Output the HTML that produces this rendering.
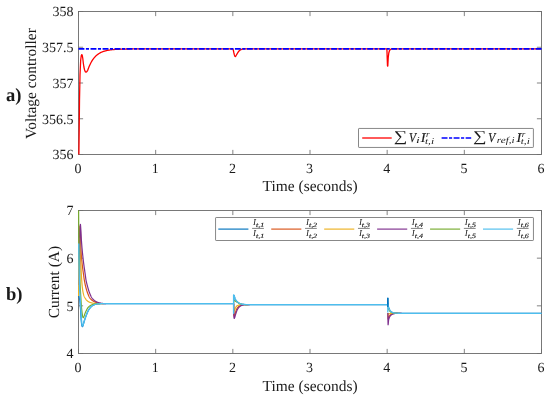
<!DOCTYPE html>
<html lang="en"><head><meta charset="utf-8"><title>Figure</title><style>
html,body{margin:0;padding:0;background:#fff;}
body{width:550px;height:400px;overflow:hidden;position:relative;}
svg text{font-family:"Liberation Serif","DejaVu Serif",serif;fill:#1a1a1a;text-rendering:geometricPrecision;}
.tk{font-size:14px;}
.lb{font-size:15.45px;}
.pn{font-size:18.6px;font-weight:bold;}
.it{font-style:italic;}
.up{font-style:normal;}
.sb{stroke:#1a1a1a;stroke-width:0.15px;}
</style></head><body>
<svg width="550" height="400" viewBox="0 0 550 400" style="display:block;position:absolute;left:0;top:0">
<rect x="0" y="0" width="550" height="400" fill="#fff"/>
<rect x="78.5" y="11.5" width="463.0" height="143.0" fill="none" stroke="#585858" stroke-width="0.8"/>
<path d="M78.50,154.5 v-4.6 M78.50,11.5 v4.6 M155.67,154.5 v-4.6 M155.67,11.5 v4.6 M232.83,154.5 v-4.6 M232.83,11.5 v4.6 M310.00,154.5 v-4.6 M310.00,11.5 v4.6 M387.17,154.5 v-4.6 M387.17,11.5 v4.6 M464.33,154.5 v-4.6 M464.33,11.5 v4.6 M541.50,154.5 v-4.6 M541.50,11.5 v4.6 M78.5,11.50 h4.6 M541.5,11.50 h-4.6 M78.5,47.25 h4.6 M541.5,47.25 h-4.6 M78.5,83.00 h4.6 M541.5,83.00 h-4.6 M78.5,118.75 h4.6 M541.5,118.75 h-4.6 M78.5,154.50 h4.6 M541.5,154.50 h-4.6 " stroke="#6e6e6e" stroke-width="0.85" fill="none"/>
<path d="M78.90,154.50 L79.20,130.00 L79.50,100.00 L80.00,75.00 L80.70,60.00 L81.30,55.50 L81.80,54.60 L82.30,55.50 L82.80,58.50 L83.30,63.00 L83.90,67.00 L84.60,70.00 L85.30,71.70 L86.00,72.20 L86.80,71.70 L87.70,70.30 L88.18,68.97 L88.65,67.72 L89.13,66.55 L89.60,65.45 L90.08,64.42 L90.55,63.46 L91.03,62.55 L91.50,61.70 L91.98,60.91 L92.45,60.16 L92.93,59.46 L93.40,58.80 L93.88,58.19 L94.35,57.61 L94.83,57.07 L95.30,56.56 L95.78,56.08 L96.26,55.63 L96.73,55.22 L97.21,54.82 L97.68,54.45 L98.16,54.11 L98.63,53.78 L99.11,53.48 L99.58,53.20 L100.06,52.93 L100.53,52.68 L101.01,52.44 L101.48,52.22 L101.96,52.02 L102.43,51.82 L102.91,51.64 L103.38,51.47 L103.86,51.31 L104.33,51.16 L104.81,51.02 L105.29,50.89 L105.76,50.76 L106.24,50.65 L106.71,50.54 L107.19,50.44 L107.66,50.34 L108.14,50.25 L108.61,50.17 L109.09,50.09 L109.56,50.02 L110.04,49.95 L110.51,49.88 L110.99,49.82 L111.46,49.76 L111.94,49.71 L112.41,49.66 L112.89,49.61 L113.37,49.57 L113.84,49.53 L114.32,49.49 L114.79,49.45 L115.27,49.42 L115.74,49.38 L116.22,49.35 L116.69,49.33 L117.17,49.30 L117.64,49.27 L118.12,49.25 L118.59,49.23 L119.07,49.21 L119.54,49.19 L120.02,49.17 L120.49,49.15 L120.97,49.14 L121.44,49.12 L121.92,49.11 L122.40,49.10 L122.87,49.08 L123.35,49.07 L123.82,49.06 L124.30,49.05 L124.77,49.04 L125.25,49.03 L125.72,49.03 L126.20,49.02 L126.67,49.01 L127.15,49.00 L127.62,49.00 L128.10,48.99 L128.57,48.99 L129.05,48.98 L129.52,48.98 L130.00,48.97 L232.90,48.90 L233.30,50.00 L233.80,52.50 L234.40,55.00 L235.00,56.40 L235.40,56.50 L236.00,55.80 L236.80,54.30 L237.80,52.60 L239.00,51.00 L240.50,49.80 L242.00,49.20 L244.00,48.90 L386.90,48.90 L387.20,58.00 L387.50,66.00 L387.80,66.00 L388.20,58.00 L388.80,53.00 L389.50,50.50 L390.50,49.30 L391.50,48.90 L541.00,48.90" fill="none" stroke="#ff0000" stroke-width="1.3" stroke-linejoin="round"/>
<path d="M78.5,48.9 H541.5" fill="none" stroke="#0000ff" stroke-width="1.6" stroke-dasharray="5.9 1.5 3.13 1.5"/>
<text x="73.45" y="16.45" text-anchor="end" class="tk">358</text>
<text x="73.45" y="52.20" text-anchor="end" class="tk">357.5</text>
<text x="73.45" y="87.95" text-anchor="end" class="tk">357</text>
<text x="73.45" y="123.70" text-anchor="end" class="tk">356.5</text>
<text x="73.45" y="159.45" text-anchor="end" class="tk">356</text>
<text x="78.10" y="173.1" text-anchor="middle" class="tk">0</text>
<text x="155.27" y="173.1" text-anchor="middle" class="tk">1</text>
<text x="232.43" y="173.1" text-anchor="middle" class="tk">2</text>
<text x="309.60" y="173.1" text-anchor="middle" class="tk">3</text>
<text x="386.77" y="173.1" text-anchor="middle" class="tk">4</text>
<text x="463.93" y="173.1" text-anchor="middle" class="tk">5</text>
<text x="541.10" y="173.1" text-anchor="middle" class="tk">6</text>
<text x="310.15" y="191.4" text-anchor="middle" class="lb">Time (seconds)</text>
<text transform="translate(35.7,83.6) rotate(-90)" text-anchor="middle" class="lb">Voltage controller</text>
<text x="6" y="101" class="pn">a)</text>
<rect x="358.5" y="128.45" width="174.9" height="19" rx="0.6" fill="#fff" stroke="#6a6a6a" stroke-width="0.8"/>
<path d="M362.2,138 H391.7" stroke="#ff0000" stroke-width="1.3"/>
<path d="M441.6,138 H471.2" stroke="#0000ff" stroke-width="1.6" stroke-dasharray="5.9 1.5 3.13 1.5"/>
<text transform="translate(393.85,141.1) scale(1.266,1)" class="up" font-size="15">∑</text>
<text transform="translate(408.93,142.4) scale(0.861,1)" class="it sb" font-size="13.2">V</text>
<text transform="translate(416.08,143.1) scale(1.520,1)" class="it" font-size="9.0">i</text>
<text transform="translate(420.80,142.4) scale(1.085,1)" class="it sb" font-size="13.2">I</text>
<text transform="translate(426.03,136.6) scale(1.076,1)" class="it" font-size="8.5">r</text>
<text transform="translate(424.95,143.8) scale(1.263,1)" class="it" font-size="9.0">t,i</text>
<text transform="translate(473.05,141.1) scale(1.266,1)" class="up" font-size="15">∑</text>
<text transform="translate(488.13,142.4) scale(0.861,1)" class="it sb" font-size="13.2">V</text>
<text transform="translate(496.86,143.1) scale(1.235,1)" class="it" font-size="9.0">ref,i</text>
<text transform="translate(516.50,142.4) scale(1.085,1)" class="it sb" font-size="13.2">I</text>
<text transform="translate(521.73,136.6) scale(1.076,1)" class="it" font-size="8.5">r</text>
<text transform="translate(520.65,143.8) scale(1.263,1)" class="it" font-size="9.0">t,i</text>
<rect x="78.5" y="210.5" width="463.0" height="143.0" fill="none" stroke="#585858" stroke-width="0.8"/>
<path d="M78.50,353.5 v-4.6 M78.50,210.5 v4.6 M155.67,353.5 v-4.6 M155.67,210.5 v4.6 M232.83,353.5 v-4.6 M232.83,210.5 v4.6 M310.00,353.5 v-4.6 M310.00,210.5 v4.6 M387.17,353.5 v-4.6 M387.17,210.5 v4.6 M464.33,353.5 v-4.6 M464.33,210.5 v4.6 M541.50,353.5 v-4.6 M541.50,210.5 v4.6 M78.5,210.50 h4.6 M541.5,210.50 h-4.6 M78.5,258.17 h4.6 M541.5,258.17 h-4.6 M78.5,305.83 h4.6 M541.5,305.83 h-4.6 M78.5,353.50 h4.6 M541.5,353.50 h-4.6 " stroke="#6e6e6e" stroke-width="0.85" fill="none"/>
<text x="73.45" y="215.45" text-anchor="end" class="tk">7</text>
<text x="73.45" y="263.12" text-anchor="end" class="tk">6</text>
<text x="73.45" y="310.78" text-anchor="end" class="tk">5</text>
<text x="73.45" y="358.45" text-anchor="end" class="tk">4</text>
<text x="78.10" y="372.1" text-anchor="middle" class="tk">0</text>
<text x="155.27" y="372.1" text-anchor="middle" class="tk">1</text>
<text x="232.43" y="372.1" text-anchor="middle" class="tk">2</text>
<text x="309.60" y="372.1" text-anchor="middle" class="tk">3</text>
<text x="386.77" y="372.1" text-anchor="middle" class="tk">4</text>
<text x="463.93" y="372.1" text-anchor="middle" class="tk">5</text>
<text x="541.10" y="372.1" text-anchor="middle" class="tk">6</text>
<text x="310.15" y="390.6" text-anchor="middle" class="lb">Time (seconds)</text>
<text transform="translate(59.0,282.1) rotate(-90)" text-anchor="middle" class="lb">Current (A)</text>
<text x="6" y="300" class="pn">b)</text>
<path d="M78.90,296.00 L79.05,296.38 L79.20,296.98 L79.35,297.75 L79.50,298.65 L79.65,299.65 L79.70,300.00 L79.80,300.79 L79.95,302.26 L80.10,304.01 L80.25,305.94 L80.40,307.96 L80.55,310.00 L80.55,310.00 L80.70,312.26 L80.85,314.79 L81.00,317.29 L81.15,319.42 L81.20,320.00 L81.30,321.07 L81.45,322.61 L81.60,323.98 L81.75,325.04 L81.90,325.70 L81.90,325.70 L82.05,326.09 L82.20,326.40 L82.35,326.62 L82.50,326.70 L82.50,326.70 L82.65,326.53 L82.80,326.12 L82.95,325.65 L83.00,325.50 L83.10,325.21 L83.25,324.71 L83.40,324.18 L83.55,323.62 L83.70,323.06 L83.85,322.51 L84.00,322.00 L84.00,322.00 L84.15,321.51 L84.30,321.03 L84.45,320.55 L84.60,320.08 L84.75,319.62 L84.90,319.16 L85.05,318.70 L85.20,318.25 L85.35,317.81 L85.50,317.38 L85.65,316.96 L85.80,316.54 L85.95,316.13 L86.00,316.00 L86.10,315.73 L86.25,315.34 L86.40,314.94 L86.55,314.55 L86.70,314.16 L86.85,313.79 L87.00,313.41 L87.15,313.05 L87.30,312.70 L87.45,312.35 L87.60,312.02 L87.75,311.70 L87.90,311.40 L88.00,311.20 L88.05,311.10 L88.20,310.82 L88.35,310.54 L88.50,310.27 L88.65,310.01 L88.80,309.75 L88.95,309.50 L89.10,309.26 L89.25,309.03 L89.40,308.80 L89.55,308.59 L89.70,308.38 L89.85,308.19 L90.00,308.00 L90.00,308.00 L90.15,307.82 L90.30,307.64 L90.45,307.47 L90.60,307.30 L90.75,307.14 L90.90,306.98 L91.05,306.82 L91.20,306.67 L91.35,306.53 L91.50,306.39 L91.65,306.26 L91.80,306.13 L91.95,306.01 L92.10,305.90 L92.25,305.80 L92.40,305.70 L92.40,305.70 L92.55,305.61 L92.70,305.52 L92.85,305.43 L93.00,305.35 L93.15,305.27 L93.30,305.18 L93.45,305.11 L93.60,305.03 L93.75,304.96 L93.90,304.89 L94.05,304.82 L94.20,304.75 L94.35,304.69 L94.50,304.63 L94.65,304.58 L94.80,304.52 L94.95,304.47 L95.10,304.43 L95.25,304.38 L95.40,304.35 L95.55,304.31 L95.60,304.30 L95.70,304.28 L95.85,304.25 L96.00,304.22 L96.15,304.19 L96.30,304.16 L96.45,304.14 L96.60,304.11 L96.75,304.09 L96.90,304.06 L97.05,304.04 L97.20,304.02 L97.35,304.00 L97.50,303.98 L97.65,303.96 L97.80,303.94 L97.95,303.93 L98.10,303.91 L98.25,303.90 L98.40,303.88 L98.55,303.87 L98.70,303.86 L98.80,303.85 L98.85,303.85 L99.00,303.84 L99.15,303.82 L99.30,303.81 L99.45,303.80 L99.60,303.79 L99.75,303.78 L99.90,303.77 L100.05,303.76 L100.20,303.75 L100.35,303.74 L100.50,303.73 L100.65,303.73 L100.80,303.72 L100.95,303.71 L101.10,303.70 L101.25,303.69 L101.40,303.69 L101.55,303.68 L101.70,303.68 L101.85,303.67 L102.00,303.67 L102.15,303.66 L102.30,303.66 L102.45,303.65 L102.60,303.65 L102.75,303.65 L102.90,303.65 L103.00,303.65 L233.57,303.65 L233.60,296.00 L233.72,295.63 L233.87,295.50 L233.90,295.50 L234.02,295.57 L234.17,295.83 L234.32,296.25 L234.47,296.76 L234.62,297.33 L234.77,297.91 L234.92,298.45 L235.07,298.91 L235.20,299.20 L235.22,299.24 L235.37,299.49 L235.52,299.73 L235.67,299.96 L235.82,300.18 L235.97,300.39 L236.12,300.58 L236.27,300.77 L236.42,300.95 L236.57,301.11 L236.72,301.27 L236.87,301.43 L237.02,301.57 L237.17,301.72 L237.32,301.85 L237.47,301.99 L237.60,302.10 L237.62,302.12 L237.77,302.25 L237.92,302.37 L238.07,302.50 L238.22,302.62 L238.37,302.73 L238.52,302.85 L238.67,302.96 L238.82,303.07 L238.97,303.17 L239.12,303.26 L239.27,303.35 L239.42,303.44 L239.57,303.52 L239.72,303.59 L239.87,303.65 L240.00,303.70 L240.02,303.71 L240.17,303.76 L240.32,303.81 L240.47,303.86 L240.62,303.91 L240.77,303.95 L240.92,304.00 L241.07,304.04 L241.22,304.08 L241.37,304.12 L241.52,304.16 L241.67,304.19 L241.82,304.23 L241.97,304.26 L242.12,304.29 L242.27,304.31 L242.42,304.34 L242.57,304.36 L242.72,304.37 L242.87,304.39 L243.00,304.40 L243.02,304.40 L243.17,304.41 L243.32,304.42 L243.47,304.43 L243.62,304.44 L243.77,304.45 L243.92,304.46 L244.07,304.47 L244.22,304.48 L244.37,304.49 L244.52,304.50 L244.67,304.51 L244.82,304.51 L244.97,304.52 L245.12,304.53 L245.27,304.54 L245.42,304.54 L245.57,304.55 L245.72,304.55 L245.87,304.56 L246.02,304.57 L246.17,304.57 L246.32,304.57 L246.47,304.58 L246.62,304.58 L246.77,304.59 L246.92,304.59 L247.07,304.59 L247.22,304.59 L247.37,304.60 L247.52,304.60 L247.67,304.60 L247.82,304.60 L247.97,304.60 L248.00,304.60 L387.65,304.60 L387.70,298.20 L387.80,298.04 L387.90,298.00 L387.95,298.65 L388.10,303.00 L388.10,303.00 L388.25,304.73 L388.40,305.93 L388.50,306.50 L388.55,306.74 L388.70,307.33 L388.85,307.80 L389.00,308.20 L389.00,308.20 L389.15,308.59 L389.30,308.96 L389.45,309.32 L389.60,309.65 L389.75,309.97 L389.90,310.25 L390.05,310.51 L390.20,310.74 L390.35,310.94 L390.40,311.00 L390.50,311.11 L390.65,311.27 L390.80,311.42 L390.95,311.57 L391.10,311.71 L391.25,311.84 L391.40,311.96 L391.55,312.07 L391.70,312.17 L391.85,312.26 L392.00,312.34 L392.15,312.41 L392.30,312.47 L392.40,312.50 L392.45,312.51 L392.60,312.56 L392.75,312.60 L392.90,312.64 L393.05,312.67 L393.20,312.71 L393.35,312.74 L393.50,312.77 L393.65,312.80 L393.80,312.83 L393.95,312.86 L394.10,312.88 L394.25,312.91 L394.40,312.93 L394.55,312.95 L394.70,312.97 L394.85,312.99 L395.00,313.01 L395.15,313.03 L395.30,313.04 L395.45,313.06 L395.60,313.07 L395.75,313.08 L395.90,313.09 L396.00,313.10 L396.05,313.10 L396.20,313.11 L396.35,313.12 L396.50,313.13 L396.65,313.14 L396.80,313.15 L396.95,313.16 L397.10,313.17 L397.25,313.18 L397.40,313.19 L397.55,313.19 L397.70,313.20 L397.85,313.21 L398.00,313.22 L398.15,313.23 L398.30,313.23 L398.45,313.24 L398.60,313.25 L398.75,313.25 L398.90,313.26 L399.05,313.26 L399.20,313.27 L399.35,313.27 L399.50,313.28 L399.65,313.28 L399.80,313.29 L399.95,313.29 L400.10,313.29 L400.25,313.29 L400.40,313.30 L400.55,313.30 L400.70,313.30 L400.85,313.30 L401.00,313.30 L401.00,313.30 L541.50,313.30" fill="none" stroke="#0072bd" stroke-width="1.2" stroke-linejoin="round"/>
<path d="M79.35,285.00 L79.45,270.00 L79.50,259.50 L79.60,240.00 L79.65,235.58 L79.80,228.00 L79.80,228.00 L79.95,226.52 L80.10,226.00 L80.10,226.00 L80.25,227.17 L80.40,229.89 L80.50,232.00 L80.55,233.26 L80.70,238.90 L80.85,245.33 L81.00,250.00 L81.00,250.00 L81.15,252.70 L81.30,254.97 L81.45,256.90 L81.60,258.57 L81.75,260.09 L81.90,261.53 L82.00,262.50 L82.05,262.98 L82.20,264.37 L82.35,265.68 L82.50,266.92 L82.65,268.09 L82.80,269.22 L82.95,270.32 L83.10,271.40 L83.25,272.47 L83.40,273.54 L83.55,274.63 L83.60,275.00 L83.70,275.75 L83.85,276.89 L84.00,278.00 L84.15,279.05 L84.30,280.00 L84.30,280.00 L84.45,280.86 L84.60,281.68 L84.75,282.46 L84.90,283.21 L85.05,283.92 L85.20,284.60 L85.35,285.26 L85.50,285.89 L85.60,286.30 L85.65,286.50 L85.80,287.10 L85.95,287.69 L86.10,288.26 L86.25,288.82 L86.40,289.36 L86.55,289.89 L86.70,290.40 L86.85,290.89 L87.00,291.35 L87.15,291.80 L87.30,292.23 L87.40,292.50 L87.45,292.63 L87.60,293.03 L87.75,293.42 L87.90,293.81 L88.05,294.20 L88.20,294.57 L88.35,294.94 L88.50,295.31 L88.65,295.66 L88.80,296.00 L88.95,296.33 L89.10,296.64 L89.25,296.95 L89.40,297.24 L89.55,297.51 L89.70,297.76 L89.85,298.00 L90.00,298.22 L90.15,298.42 L90.30,298.60 L90.30,298.60 L90.45,298.77 L90.60,298.93 L90.75,299.08 L90.90,299.24 L91.05,299.38 L91.20,299.53 L91.35,299.67 L91.50,299.80 L91.65,299.93 L91.80,300.06 L91.95,300.18 L92.10,300.30 L92.25,300.42 L92.40,300.53 L92.55,300.64 L92.70,300.75 L92.85,300.85 L93.00,300.95 L93.15,301.04 L93.30,301.14 L93.45,301.23 L93.60,301.31 L93.75,301.40 L93.90,301.48 L94.05,301.56 L94.20,301.63 L94.35,301.71 L94.50,301.78 L94.65,301.85 L94.80,301.91 L94.95,301.98 L95.00,302.00 L95.10,302.04 L95.25,302.10 L95.40,302.16 L95.55,302.22 L95.70,302.28 L95.85,302.34 L96.00,302.40 L96.15,302.45 L96.30,302.51 L96.45,302.56 L96.60,302.61 L96.75,302.66 L96.90,302.71 L97.05,302.75 L97.20,302.80 L97.35,302.84 L97.50,302.88 L97.65,302.93 L97.80,302.96 L97.95,303.00 L98.10,303.03 L98.25,303.07 L98.40,303.10 L98.55,303.13 L98.70,303.15 L98.85,303.18 L99.00,303.20 L99.00,303.20 L99.15,303.22 L99.30,303.24 L99.45,303.26 L99.60,303.28 L99.75,303.30 L99.90,303.32 L100.05,303.34 L100.20,303.36 L100.35,303.38 L100.50,303.40 L100.65,303.42 L100.80,303.44 L100.95,303.45 L101.10,303.47 L101.25,303.49 L101.40,303.50 L101.55,303.52 L101.70,303.53 L101.85,303.55 L102.00,303.56 L102.15,303.57 L102.30,303.58 L102.45,303.59 L102.60,303.60 L102.75,303.61 L102.90,303.62 L103.05,303.63 L103.20,303.63 L103.35,303.64 L103.50,303.64 L103.65,303.65 L103.80,303.65 L103.95,303.65 L104.00,303.65 M233.72,303.65 L233.75,312.00 L233.87,314.08 L234.02,315.57 L234.17,316.19 L234.30,316.30 L234.32,316.30 L234.47,316.16 L234.62,315.82 L234.77,315.34 L234.92,314.75 L235.07,314.11 L235.22,313.45 L235.37,312.82 L235.52,312.25 L235.60,312.00 L235.67,311.79 L235.82,311.34 L235.97,310.88 L236.12,310.43 L236.27,310.00 L236.42,309.60 L236.57,309.25 L236.72,308.94 L236.80,308.80 L236.87,308.69 L237.02,308.46 L237.17,308.24 L237.32,308.03 L237.47,307.83 L237.62,307.64 L237.77,307.46 L237.92,307.29 L238.07,307.13 L238.22,306.98 L238.37,306.83 L238.52,306.70 L238.67,306.58 L238.82,306.46 L238.97,306.35 L239.12,306.25 L239.20,306.20 L239.27,306.16 L239.42,306.07 L239.57,305.98 L239.72,305.89 L239.87,305.81 L240.02,305.73 L240.17,305.65 L240.32,305.58 L240.47,305.51 L240.62,305.44 L240.77,305.37 L240.92,305.31 L241.07,305.26 L241.22,305.21 L241.37,305.16 L241.52,305.11 L241.67,305.07 L241.82,305.04 L241.97,305.01 L242.00,305.00 L242.12,304.98 L242.27,304.95 L242.42,304.93 L242.57,304.90 L242.72,304.88 L242.87,304.85 L243.02,304.83 L243.17,304.81 L243.32,304.79 L243.47,304.77 L243.62,304.75 L243.77,304.73 L243.92,304.72 L244.07,304.70 L244.22,304.69 L244.37,304.68 L244.52,304.67 L244.67,304.66 L244.82,304.66 L244.97,304.65 L245.00,304.65 L245.12,304.65 L245.27,304.64 L245.42,304.64 L245.57,304.64 L245.72,304.63 L245.87,304.63 L246.02,304.63 L246.17,304.63 L246.32,304.62 L246.47,304.62 L246.62,304.62 L246.77,304.62 L246.92,304.61 L247.07,304.61 L247.22,304.61 L247.37,304.61 L247.52,304.61 L247.67,304.61 L247.82,304.60 L247.97,304.60 L248.12,304.60 L248.27,304.60 L248.42,304.60 L248.57,304.60 L248.72,304.60 L248.87,304.60 L249.00,304.60 M387.92,313.00 L387.95,316.00 L388.07,318.43 L388.20,319.20 L388.22,319.20 L388.37,319.02 L388.52,318.64 L388.67,318.12 L388.82,317.55 L388.97,317.00 L389.12,316.56 L389.20,316.40 L389.27,316.29 L389.42,316.05 L389.57,315.83 L389.72,315.63 L389.87,315.44 L390.02,315.27 L390.17,315.11 L390.32,314.97 L390.47,314.84 L390.62,314.72 L390.77,314.62 L390.80,314.60 L390.92,314.53 L391.07,314.44 L391.22,314.35 L391.37,314.27 L391.52,314.19 L391.67,314.11 L391.82,314.04 L391.97,313.98 L392.12,313.91 L392.27,313.86 L392.42,313.80 L392.57,313.75 L392.72,313.71 L392.87,313.67 L393.02,313.63 L393.17,313.61 L393.20,313.60 L393.32,313.58 L393.47,313.55 L393.62,313.53 L393.77,313.51 L393.92,313.48 L394.07,313.46 L394.22,313.44 L394.37,313.42 L394.52,313.40 L394.67,313.38 L394.82,313.37 L394.97,313.35 L395.12,313.34 L395.27,313.33 L395.42,313.32 L395.57,313.31 L395.72,313.30 L395.87,313.30 L396.00,313.30 L396.02,313.30 L396.17,313.30 L396.32,313.30 L396.47,313.30 L396.62,313.30 L396.77,313.30 L396.92,313.30 L397.07,313.30 L397.22,313.30 L397.37,313.30 L397.52,313.30 L397.67,313.30 L397.82,313.30 L397.97,313.30 L398.12,313.30 L398.27,313.30 L398.42,313.30 L398.57,313.30 L398.72,313.30 L398.87,313.30 L399.02,313.30 L399.17,313.30 L399.32,313.30 L399.47,313.30 L399.62,313.30 L399.77,313.30 L399.92,313.30 L400.07,313.30 L400.22,313.30 L400.37,313.30 L400.52,313.30 L400.67,313.30 L400.82,313.30 L400.97,313.30 L401.00,313.30" fill="none" stroke="#d95319" stroke-width="1.2" stroke-linejoin="round"/>
<path d="M78.60,296.00 L78.75,275.57 L78.80,270.00 L78.90,259.60 L79.05,247.17 L79.10,245.00 L79.20,242.23 L79.35,239.17 L79.50,238.00 L79.50,238.00 L79.65,238.55 L79.80,239.90 L79.90,241.00 L79.95,241.69 L80.10,244.90 L80.25,248.79 L80.30,250.00 L80.40,252.37 L80.55,256.02 L80.70,259.66 L80.80,262.00 L80.85,263.15 L81.00,266.63 L81.15,270.03 L81.30,273.16 L81.40,275.00 L81.45,275.85 L81.60,278.33 L81.75,280.65 L81.90,282.76 L82.05,284.63 L82.20,286.20 L82.20,286.20 L82.35,287.55 L82.50,288.77 L82.65,289.87 L82.80,290.86 L82.95,291.73 L83.10,292.50 L83.10,292.50 L83.25,293.19 L83.40,293.82 L83.55,294.41 L83.70,294.95 L83.85,295.44 L84.00,295.88 L84.15,296.28 L84.20,296.40 L84.30,296.63 L84.45,296.95 L84.60,297.25 L84.75,297.52 L84.90,297.77 L85.05,298.01 L85.20,298.25 L85.30,298.40 L85.35,298.48 L85.50,298.71 L85.65,298.94 L85.80,299.16 L85.95,299.38 L86.10,299.59 L86.25,299.79 L86.40,299.98 L86.55,300.15 L86.70,300.31 L86.80,300.40 L86.85,300.44 L87.00,300.57 L87.15,300.70 L87.30,300.82 L87.45,300.94 L87.60,301.06 L87.75,301.17 L87.90,301.28 L88.05,301.39 L88.20,301.49 L88.35,301.58 L88.50,301.68 L88.65,301.77 L88.80,301.85 L88.95,301.94 L89.10,302.01 L89.25,302.09 L89.40,302.16 L89.55,302.22 L89.70,302.29 L89.85,302.35 L90.00,302.40 L90.00,302.40 L90.15,302.45 L90.30,302.50 L90.45,302.55 L90.60,302.60 L90.75,302.65 L90.90,302.70 L91.05,302.74 L91.20,302.79 L91.35,302.83 L91.50,302.87 L91.65,302.91 L91.80,302.95 L91.95,302.99 L92.10,303.02 L92.25,303.06 L92.40,303.09 L92.55,303.12 L92.70,303.16 L92.85,303.18 L93.00,303.21 L93.15,303.24 L93.30,303.26 L93.45,303.28 L93.60,303.30 L93.75,303.32 L93.90,303.34 L94.00,303.35 L94.05,303.35 L94.20,303.37 L94.35,303.38 L94.50,303.40 L94.65,303.41 L94.80,303.42 L94.95,303.44 L95.10,303.45 L95.25,303.46 L95.40,303.47 L95.55,303.48 L95.70,303.50 L95.85,303.51 L96.00,303.52 L96.15,303.53 L96.30,303.53 L96.45,303.54 L96.60,303.55 L96.75,303.56 L96.90,303.57 L97.05,303.57 L97.20,303.58 L97.35,303.58 L97.50,303.59 L97.65,303.59 L97.80,303.60 L97.95,303.60 L98.00,303.60 L98.10,303.60 L98.25,303.60 L98.40,303.61 L98.55,303.61 L98.70,303.61 L98.85,303.61 L99.00,303.62 L99.15,303.62 L99.30,303.62 L99.45,303.62 L99.60,303.63 L99.75,303.63 L99.90,303.63 L100.05,303.63 L100.20,303.63 L100.35,303.63 L100.50,303.64 L100.65,303.64 L100.80,303.64 L100.95,303.64 L101.10,303.64 L101.25,303.64 L101.40,303.64 L101.55,303.65 L101.70,303.65 L101.85,303.65 L102.00,303.65 L102.15,303.65 L102.30,303.65 L102.45,303.65 L102.60,303.65 L102.75,303.65 L102.90,303.65 L103.00,303.65 M233.72,303.65 L233.75,309.00 L233.87,309.98 L234.02,310.67 L234.17,310.95 L234.30,311.00 L234.32,311.00 L234.47,310.81 L234.62,310.40 L234.77,309.85 L234.92,309.27 L235.07,308.74 L235.20,308.40 L235.22,308.36 L235.37,308.06 L235.52,307.77 L235.67,307.49 L235.82,307.22 L235.97,306.98 L236.12,306.75 L236.27,306.54 L236.42,306.35 L236.57,306.19 L236.72,306.06 L236.80,306.00 L236.87,305.95 L237.02,305.86 L237.17,305.77 L237.32,305.68 L237.47,305.60 L237.62,305.52 L237.77,305.45 L237.92,305.39 L238.07,305.33 L238.22,305.27 L238.37,305.22 L238.52,305.17 L238.67,305.13 L238.82,305.09 L238.97,305.05 L239.12,305.02 L239.20,305.00 L239.27,304.99 L239.42,304.96 L239.57,304.93 L239.72,304.90 L239.87,304.88 L240.02,304.85 L240.17,304.83 L240.32,304.80 L240.47,304.78 L240.62,304.76 L240.77,304.74 L240.92,304.72 L241.07,304.71 L241.22,304.69 L241.37,304.68 L241.52,304.67 L241.67,304.66 L241.82,304.66 L241.97,304.65 L242.00,304.65 L242.12,304.65 L242.27,304.64 L242.42,304.64 L242.57,304.64 L242.72,304.64 L242.87,304.63 L243.02,304.63 L243.17,304.63 L243.32,304.63 L243.47,304.62 L243.62,304.62 L243.77,304.62 L243.92,304.62 L244.07,304.62 L244.22,304.62 L244.37,304.61 L244.52,304.61 L244.67,304.61 L244.82,304.61 L244.97,304.61 L245.12,304.61 L245.27,304.61 L245.42,304.60 L245.57,304.60 L245.72,304.60 L245.87,304.60 L246.02,304.60 L246.17,304.60 L246.32,304.60 L246.47,304.60 L246.62,304.60 L246.77,304.60 L246.92,304.60 L247.00,304.60 M387.92,313.00 L387.95,313.20 L388.07,313.62 L388.22,313.95 L388.30,314.00 L388.37,314.00 L388.52,313.99 L388.67,313.96 L388.82,313.93 L388.97,313.89 L389.12,313.84 L389.27,313.79 L389.42,313.74 L389.57,313.70 L389.72,313.66 L389.87,313.62 L390.00,313.60 L390.02,313.60 L390.17,313.58 L390.32,313.55 L390.47,313.53 L390.62,313.51 L390.77,313.49 L390.92,313.47 L391.07,313.45 L391.22,313.43 L391.37,313.41 L391.52,313.39 L391.67,313.38 L391.82,313.36 L391.97,313.35 L392.12,313.34 L392.27,313.33 L392.42,313.32 L392.57,313.31 L392.72,313.30 L392.87,313.30 L393.00,313.30 L393.02,313.30 L393.17,313.30 L393.32,313.30 L393.47,313.30 L393.62,313.30 L393.77,313.30 L393.92,313.30 L394.07,313.30 L394.22,313.30 L394.37,313.30 L394.52,313.30 L394.67,313.30 L394.82,313.30 L394.97,313.30 L395.12,313.30 L395.27,313.30 L395.42,313.30 L395.57,313.30 L395.72,313.30 L395.87,313.30 L396.02,313.30 L396.17,313.30 L396.32,313.30 L396.47,313.30 L396.62,313.30 L396.77,313.30 L396.92,313.30 L397.07,313.30 L397.22,313.30 L397.37,313.30 L397.52,313.30 L397.67,313.30 L397.82,313.30 L397.97,313.30 L398.00,313.30" fill="none" stroke="#edb120" stroke-width="1.2" stroke-linejoin="round"/>
<path d="M79.40,285.00 L79.55,270.00 L79.55,270.00 L79.70,253.79 L79.85,240.00 L79.85,240.00 L80.00,230.50 L80.10,227.00 L80.15,226.28 L80.30,224.74 L80.40,224.40 L80.45,224.52 L80.60,226.00 L80.75,228.27 L80.80,229.00 L80.90,230.57 L81.05,233.41 L81.20,236.44 L81.35,239.21 L81.40,240.00 L81.50,241.45 L81.65,243.50 L81.80,245.40 L81.95,247.19 L82.10,248.88 L82.25,250.50 L82.25,250.50 L82.40,252.06 L82.55,253.57 L82.70,255.02 L82.85,256.41 L83.00,257.76 L83.15,259.07 L83.30,260.35 L83.45,261.59 L83.50,262.00 L83.60,262.81 L83.75,263.98 L83.90,265.12 L84.05,266.22 L84.20,267.31 L84.35,268.37 L84.50,269.42 L84.65,270.46 L84.80,271.49 L84.95,272.53 L85.10,273.58 L85.25,274.64 L85.30,275.00 L85.40,275.74 L85.55,276.89 L85.70,278.02 L85.85,279.09 L86.00,280.00 L86.00,280.00 L86.15,280.79 L86.30,281.53 L86.45,282.22 L86.60,282.87 L86.75,283.48 L86.90,284.07 L87.05,284.64 L87.20,285.20 L87.35,285.75 L87.50,286.30 L87.50,286.30 L87.65,286.85 L87.80,287.40 L87.95,287.94 L88.10,288.47 L88.25,289.00 L88.40,289.51 L88.55,290.01 L88.70,290.49 L88.85,290.96 L89.00,291.41 L89.15,291.83 L89.30,292.24 L89.40,292.50 L89.45,292.63 L89.60,293.00 L89.75,293.38 L89.90,293.75 L90.05,294.11 L90.20,294.47 L90.35,294.82 L90.50,295.16 L90.65,295.50 L90.80,295.83 L90.95,296.15 L91.10,296.45 L91.25,296.75 L91.40,297.04 L91.55,297.31 L91.70,297.57 L91.85,297.81 L92.00,298.05 L92.15,298.26 L92.30,298.46 L92.45,298.64 L92.50,298.70 L92.60,298.81 L92.75,298.97 L92.90,299.13 L93.05,299.29 L93.20,299.44 L93.35,299.59 L93.50,299.73 L93.65,299.87 L93.80,300.00 L93.95,300.13 L94.10,300.26 L94.25,300.39 L94.40,300.51 L94.55,300.62 L94.70,300.74 L94.85,300.85 L95.00,300.95 L95.15,301.05 L95.30,301.15 L95.45,301.25 L95.60,301.34 L95.75,301.43 L95.90,301.51 L96.05,301.59 L96.20,301.67 L96.35,301.75 L96.50,301.82 L96.65,301.89 L96.80,301.96 L96.90,302.00 L96.95,302.02 L97.10,302.08 L97.25,302.14 L97.40,302.20 L97.55,302.26 L97.70,302.32 L97.85,302.37 L98.00,302.43 L98.15,302.48 L98.30,302.53 L98.45,302.58 L98.60,302.63 L98.75,302.68 L98.90,302.73 L99.05,302.77 L99.20,302.82 L99.35,302.86 L99.50,302.90 L99.65,302.94 L99.80,302.97 L99.95,303.01 L100.10,303.04 L100.25,303.07 L100.40,303.10 L100.55,303.13 L100.70,303.15 L100.85,303.18 L101.00,303.20 L101.00,303.20 L101.15,303.22 L101.30,303.24 L101.45,303.26 L101.60,303.28 L101.75,303.30 L101.90,303.32 L102.05,303.34 L102.20,303.36 L102.35,303.38 L102.50,303.40 L102.65,303.42 L102.80,303.44 L102.95,303.45 L103.10,303.47 L103.25,303.49 L103.40,303.50 L103.55,303.52 L103.70,303.53 L103.85,303.55 L104.00,303.56 L104.15,303.57 L104.30,303.58 L104.45,303.59 L104.60,303.60 L104.75,303.61 L104.90,303.62 L105.05,303.63 L105.20,303.63 L105.35,303.64 L105.50,303.64 L105.65,303.65 L105.80,303.65 L105.95,303.65 L106.00,303.65 M233.72,303.65 L233.75,313.00 L233.87,315.99 L234.02,317.87 L234.17,318.39 L234.20,318.40 L234.32,318.34 L234.47,318.13 L234.62,317.78 L234.77,317.34 L234.92,316.82 L235.07,316.26 L235.22,315.69 L235.37,315.14 L235.52,314.64 L235.60,314.40 L235.67,314.20 L235.82,313.76 L235.97,313.31 L236.12,312.86 L236.27,312.40 L236.42,311.96 L236.57,311.52 L236.72,311.11 L236.87,310.72 L237.02,310.37 L237.17,310.06 L237.20,310.00 L237.32,309.78 L237.47,309.51 L237.62,309.24 L237.77,308.99 L237.92,308.74 L238.07,308.51 L238.22,308.28 L238.37,308.06 L238.52,307.86 L238.67,307.66 L238.82,307.48 L238.97,307.30 L239.12,307.14 L239.27,306.99 L239.42,306.85 L239.57,306.72 L239.60,306.70 L239.72,306.61 L239.87,306.49 L240.02,306.39 L240.17,306.28 L240.32,306.18 L240.47,306.08 L240.62,305.98 L240.77,305.89 L240.92,305.81 L241.07,305.72 L241.22,305.65 L241.37,305.57 L241.52,305.50 L241.67,305.44 L241.82,305.38 L241.97,305.33 L242.12,305.28 L242.27,305.23 L242.40,305.20 L242.42,305.20 L242.57,305.16 L242.72,305.12 L242.87,305.09 L243.02,305.06 L243.17,305.02 L243.32,304.99 L243.47,304.96 L243.62,304.93 L243.77,304.90 L243.92,304.87 L244.07,304.85 L244.22,304.82 L244.37,304.80 L244.52,304.78 L244.67,304.76 L244.82,304.74 L244.97,304.72 L245.12,304.70 L245.27,304.69 L245.42,304.68 L245.57,304.67 L245.72,304.66 L245.87,304.65 L246.00,304.65 L246.02,304.65 L246.17,304.65 L246.32,304.64 L246.47,304.64 L246.62,304.64 L246.77,304.63 L246.92,304.63 L247.07,304.63 L247.22,304.63 L247.37,304.62 L247.52,304.62 L247.67,304.62 L247.82,304.62 L247.97,304.61 L248.12,304.61 L248.27,304.61 L248.42,304.61 L248.57,304.61 L248.72,304.61 L248.87,304.60 L249.02,304.60 L249.17,304.60 L249.32,304.60 L249.47,304.60 L249.62,304.60 L249.77,304.60 L249.92,304.60 L250.00,304.60 M387.92,313.00 L387.95,320.00 L388.07,324.77 L388.08,324.80 L388.22,324.08 L388.37,322.33 L388.52,320.58 L388.60,320.00 L388.67,319.68 L388.82,319.06 L388.97,318.53 L389.12,318.07 L389.27,317.69 L389.42,317.35 L389.57,317.06 L389.60,317.00 L389.72,316.79 L389.87,316.54 L390.02,316.30 L390.17,316.08 L390.32,315.88 L390.47,315.70 L390.62,315.53 L390.77,315.37 L390.92,315.23 L391.07,315.10 L391.20,315.00 L391.22,314.99 L391.37,314.88 L391.52,314.77 L391.67,314.67 L391.82,314.58 L391.97,314.48 L392.12,314.40 L392.27,314.31 L392.42,314.23 L392.57,314.16 L392.72,314.09 L392.87,314.03 L393.02,313.97 L393.17,313.92 L393.32,313.87 L393.47,313.83 L393.60,313.80 L393.62,313.80 L393.77,313.76 L393.92,313.73 L394.07,313.70 L394.22,313.67 L394.37,313.64 L394.52,313.62 L394.67,313.59 L394.82,313.56 L394.97,313.54 L395.12,313.52 L395.27,313.50 L395.42,313.48 L395.57,313.46 L395.72,313.44 L395.87,313.42 L396.02,313.41 L396.17,313.39 L396.32,313.38 L396.47,313.37 L396.62,313.36 L396.77,313.36 L396.92,313.35 L397.00,313.35 L397.07,313.35 L397.22,313.35 L397.37,313.34 L397.52,313.34 L397.67,313.34 L397.82,313.34 L397.97,313.33 L398.12,313.33 L398.27,313.33 L398.42,313.33 L398.57,313.32 L398.72,313.32 L398.87,313.32 L399.02,313.32 L399.17,313.32 L399.32,313.31 L399.47,313.31 L399.62,313.31 L399.77,313.31 L399.92,313.31 L400.07,313.31 L400.22,313.31 L400.37,313.31 L400.52,313.30 L400.67,313.30 L400.82,313.30 L400.97,313.30 L401.12,313.30 L401.27,313.30 L401.42,313.30 L401.57,313.30 L401.72,313.30 L401.87,313.30 L402.00,313.30" fill="none" stroke="#7e2f8e" stroke-width="1.2" stroke-linejoin="round"/>
<path d="M78.60,210.50 L78.75,229.47 L78.90,243.00 L79.05,250.48 L79.20,256.15 L79.35,260.74 L79.50,264.99 L79.60,268.00 L79.65,269.59 L79.80,274.35 L79.95,278.95 L80.10,283.20 L80.25,286.91 L80.30,288.00 L80.40,289.97 L80.55,292.55 L80.70,294.89 L80.85,297.20 L80.90,298.00 L81.00,299.68 L81.15,302.25 L81.30,304.64 L81.40,306.00 L81.45,306.61 L81.60,308.30 L81.75,309.82 L81.90,311.17 L82.00,312.00 L82.05,312.40 L82.20,313.57 L82.35,314.64 L82.50,315.54 L82.60,316.00 L82.65,316.20 L82.80,316.79 L82.95,317.30 L83.10,317.63 L83.20,317.70 L83.25,317.69 L83.40,317.56 L83.55,317.33 L83.70,317.02 L83.85,316.70 L83.90,316.60 L84.00,316.38 L84.15,315.98 L84.30,315.52 L84.45,315.05 L84.60,314.57 L84.75,314.13 L84.80,314.00 L84.90,313.74 L85.05,313.36 L85.20,313.00 L85.35,312.64 L85.50,312.29 L85.65,311.95 L85.80,311.62 L85.95,311.30 L86.00,311.20 L86.10,310.99 L86.25,310.68 L86.40,310.38 L86.55,310.07 L86.70,309.77 L86.85,309.47 L87.00,309.19 L87.15,308.91 L87.30,308.64 L87.45,308.39 L87.60,308.15 L87.75,307.93 L87.90,307.72 L88.00,307.60 L88.05,307.54 L88.20,307.37 L88.35,307.20 L88.50,307.04 L88.65,306.89 L88.80,306.75 L88.95,306.61 L89.10,306.47 L89.25,306.35 L89.40,306.23 L89.55,306.11 L89.70,306.00 L89.85,305.90 L90.00,305.80 L90.00,305.80 L90.15,305.70 L90.30,305.61 L90.45,305.52 L90.60,305.43 L90.75,305.34 L90.90,305.25 L91.05,305.17 L91.20,305.09 L91.35,305.02 L91.50,304.95 L91.65,304.88 L91.80,304.81 L91.95,304.75 L92.10,304.70 L92.25,304.65 L92.40,304.60 L92.40,304.60 L92.55,304.56 L92.70,304.51 L92.85,304.47 L93.00,304.43 L93.15,304.39 L93.30,304.36 L93.45,304.32 L93.60,304.29 L93.75,304.25 L93.90,304.22 L94.05,304.19 L94.20,304.16 L94.35,304.13 L94.50,304.10 L94.65,304.08 L94.80,304.05 L94.95,304.03 L95.10,304.01 L95.25,303.99 L95.40,303.97 L95.55,303.96 L95.60,303.95 L95.70,303.94 L95.85,303.92 L96.00,303.91 L96.15,303.89 L96.30,303.88 L96.45,303.86 L96.60,303.85 L96.75,303.83 L96.90,303.82 L97.05,303.81 L97.20,303.79 L97.35,303.78 L97.50,303.77 L97.65,303.75 L97.80,303.74 L97.95,303.73 L98.10,303.72 L98.25,303.71 L98.40,303.70 L98.55,303.69 L98.70,303.68 L98.85,303.68 L99.00,303.67 L99.15,303.67 L99.30,303.66 L99.45,303.66 L99.60,303.65 L99.75,303.65 L99.90,303.65 L100.00,303.65 M233.57,303.65 L233.60,300.00 L233.72,300.02 L233.87,300.09 L234.02,300.20 L234.17,300.33 L234.32,300.46 L234.47,300.58 L234.50,300.60 L234.62,300.68 L234.77,300.78 L234.92,300.89 L235.07,300.99 L235.22,301.10 L235.37,301.20 L235.52,301.30 L235.67,301.40 L235.82,301.49 L235.97,301.58 L236.00,301.60 L236.12,301.67 L236.27,301.75 L236.42,301.82 L236.57,301.90 L236.72,301.97 L236.87,302.04 L237.02,302.11 L237.17,302.18 L237.32,302.26 L237.47,302.33 L237.60,302.40 L237.62,302.41 L237.77,302.50 L237.92,302.58 L238.07,302.68 L238.22,302.78 L238.37,302.88 L238.52,302.98 L238.67,303.08 L238.82,303.18 L238.97,303.28 L239.12,303.37 L239.27,303.46 L239.42,303.54 L239.57,303.62 L239.72,303.69 L239.87,303.75 L240.00,303.80 L240.02,303.81 L240.17,303.85 L240.32,303.90 L240.47,303.95 L240.62,303.99 L240.77,304.03 L240.92,304.08 L241.07,304.12 L241.22,304.16 L241.37,304.19 L241.52,304.23 L241.67,304.26 L241.82,304.29 L241.97,304.32 L242.12,304.35 L242.27,304.37 L242.42,304.39 L242.57,304.41 L242.72,304.43 L242.87,304.44 L243.00,304.45 L243.02,304.45 L243.17,304.46 L243.32,304.47 L243.47,304.48 L243.62,304.48 L243.77,304.49 L243.92,304.50 L244.07,304.50 L244.22,304.51 L244.37,304.52 L244.52,304.52 L244.67,304.53 L244.82,304.54 L244.97,304.54 L245.12,304.55 L245.27,304.55 L245.42,304.56 L245.57,304.56 L245.72,304.57 L245.87,304.57 L246.02,304.57 L246.17,304.58 L246.32,304.58 L246.47,304.58 L246.62,304.59 L246.77,304.59 L246.92,304.59 L247.07,304.59 L247.22,304.60 L247.37,304.60 L247.52,304.60 L247.67,304.60 L247.82,304.60 L247.97,304.60 L248.00,304.60 M387.80,307.30 L387.95,307.68 L388.10,308.05 L388.25,308.39 L388.30,308.50 L388.40,308.71 L388.55,309.04 L388.70,309.35 L388.85,309.67 L389.00,309.96 L389.15,310.24 L389.30,310.49 L389.45,310.71 L389.60,310.90 L389.60,310.90 L389.75,311.06 L389.90,311.22 L390.05,311.38 L390.20,311.53 L390.35,311.67 L390.50,311.81 L390.65,311.94 L390.80,312.06 L390.95,312.17 L391.10,312.28 L391.25,312.37 L391.40,312.46 L391.55,312.53 L391.70,312.60 L391.85,312.66 L392.00,312.70 L392.00,312.70 L392.15,312.74 L392.30,312.77 L392.45,312.81 L392.60,312.84 L392.75,312.87 L392.90,312.90 L393.05,312.93 L393.20,312.95 L393.35,312.98 L393.50,313.00 L393.65,313.02 L393.80,313.04 L393.95,313.06 L394.10,313.08 L394.25,313.09 L394.40,313.11 L394.55,313.12 L394.70,313.13 L394.85,313.14 L395.00,313.15 L395.00,313.15 L395.15,313.16 L395.30,313.17 L395.45,313.17 L395.60,313.18 L395.75,313.19 L395.90,313.19 L396.05,313.20 L396.20,313.21 L396.35,313.21 L396.50,313.22 L396.65,313.23 L396.80,313.23 L396.95,313.24 L397.10,313.24 L397.25,313.25 L397.40,313.25 L397.55,313.26 L397.70,313.26 L397.85,313.27 L398.00,313.27 L398.15,313.28 L398.30,313.28 L398.45,313.28 L398.60,313.29 L398.75,313.29 L398.90,313.29 L399.05,313.29 L399.20,313.30 L399.35,313.30 L399.50,313.30 L399.65,313.30 L399.80,313.30 L399.95,313.30 L400.00,313.30" fill="none" stroke="#77ac30" stroke-width="1.2" stroke-linejoin="round"/>
<path d="M78.75,243.50 L78.90,255.00 L79.05,265.67 L79.20,275.26 L79.30,280.00 L79.35,281.83 L79.50,286.42 L79.65,289.98 L79.70,291.00 L79.80,292.82 L79.95,295.11 L80.10,297.14 L80.25,299.24 L80.30,300.00 L80.40,301.61 L80.55,304.09 L80.70,306.63 L80.85,309.16 L80.90,310.00 L81.00,311.74 L81.15,314.48 L81.30,317.12 L81.45,319.38 L81.50,320.00 L81.60,321.16 L81.75,322.82 L81.90,324.21 L82.05,325.13 L82.10,325.30 L82.20,325.54 L82.35,325.83 L82.50,325.99 L82.55,326.00 L82.65,325.95 L82.80,325.72 L82.95,325.40 L83.00,325.30 L83.10,325.07 L83.25,324.65 L83.40,324.15 L83.55,323.61 L83.70,323.05 L83.85,322.50 L84.00,322.00 L84.00,322.00 L84.15,321.53 L84.30,321.05 L84.45,320.58 L84.60,320.11 L84.75,319.64 L84.90,319.18 L85.05,318.72 L85.20,318.27 L85.35,317.83 L85.50,317.39 L85.65,316.96 L85.80,316.54 L85.95,316.13 L86.00,316.00 L86.10,315.73 L86.25,315.34 L86.40,314.94 L86.55,314.55 L86.70,314.16 L86.85,313.79 L87.00,313.41 L87.15,313.05 L87.30,312.70 L87.45,312.35 L87.60,312.02 L87.75,311.70 L87.90,311.40 L88.00,311.20 L88.05,311.10 L88.20,310.82 L88.35,310.54 L88.50,310.27 L88.65,310.01 L88.80,309.75 L88.95,309.50 L89.10,309.26 L89.25,309.03 L89.40,308.80 L89.55,308.59 L89.70,308.38 L89.85,308.19 L90.00,308.00 L90.00,308.00 L90.15,307.82 L90.30,307.64 L90.45,307.47 L90.60,307.30 L90.75,307.14 L90.90,306.98 L91.05,306.82 L91.20,306.67 L91.35,306.53 L91.50,306.39 L91.65,306.26 L91.80,306.13 L91.95,306.01 L92.10,305.90 L92.25,305.80 L92.40,305.70 L92.40,305.70 L92.55,305.61 L92.70,305.52 L92.85,305.43 L93.00,305.35 L93.15,305.27 L93.30,305.18 L93.45,305.11 L93.60,305.03 L93.75,304.96 L93.90,304.89 L94.05,304.82 L94.20,304.75 L94.35,304.69 L94.50,304.63 L94.65,304.58 L94.80,304.52 L94.95,304.47 L95.10,304.43 L95.25,304.38 L95.40,304.35 L95.55,304.31 L95.60,304.30 L95.70,304.28 L95.85,304.25 L96.00,304.22 L96.15,304.19 L96.30,304.16 L96.45,304.14 L96.60,304.11 L96.75,304.09 L96.90,304.06 L97.05,304.04 L97.20,304.02 L97.35,304.00 L97.50,303.98 L97.65,303.96 L97.80,303.94 L97.95,303.93 L98.10,303.91 L98.25,303.90 L98.40,303.88 L98.55,303.87 L98.70,303.86 L98.80,303.85 L98.85,303.85 L99.00,303.84 L99.15,303.82 L99.30,303.81 L99.45,303.80 L99.60,303.79 L99.75,303.78 L99.90,303.77 L100.05,303.76 L100.20,303.75 L100.35,303.74 L100.50,303.73 L100.65,303.73 L100.80,303.72 L100.95,303.71 L101.10,303.70 L101.25,303.69 L101.40,303.69 L101.55,303.68 L101.70,303.68 L101.85,303.67 L102.00,303.67 L102.15,303.66 L102.30,303.66 L102.45,303.65 L102.60,303.65 L102.75,303.65 L102.90,303.65 L103.00,303.65 L233.54,303.65 L233.57,313.20 L233.60,294.80 L233.69,294.85 L233.84,295.09 L233.90,295.20 L233.99,295.37 L234.14,295.75 L234.29,296.20 L234.44,296.70 L234.59,297.22 L234.74,297.74 L234.89,298.22 L235.04,298.65 L235.19,298.98 L235.20,299.00 L235.34,299.25 L235.49,299.50 L235.64,299.74 L235.79,299.97 L235.94,300.19 L236.09,300.39 L236.24,300.59 L236.39,300.77 L236.54,300.95 L236.69,301.12 L236.84,301.28 L236.99,301.43 L237.14,301.58 L237.29,301.72 L237.44,301.86 L237.59,301.99 L237.60,302.00 L237.74,302.12 L237.89,302.25 L238.04,302.37 L238.19,302.49 L238.34,302.61 L238.49,302.72 L238.64,302.83 L238.79,302.94 L238.94,303.04 L239.09,303.13 L239.24,303.23 L239.39,303.31 L239.54,303.39 L239.69,303.47 L239.84,303.53 L239.99,303.60 L240.00,303.60 L240.14,303.65 L240.29,303.71 L240.44,303.77 L240.59,303.82 L240.74,303.87 L240.89,303.93 L241.04,303.98 L241.19,304.02 L241.34,304.07 L241.49,304.11 L241.64,304.16 L241.79,304.20 L241.94,304.23 L242.09,304.27 L242.24,304.30 L242.39,304.32 L242.54,304.35 L242.69,304.37 L242.84,304.39 L242.99,304.40 L243.00,304.40 L243.14,304.41 L243.29,304.42 L243.44,304.43 L243.59,304.44 L243.74,304.45 L243.89,304.46 L244.04,304.47 L244.19,304.48 L244.34,304.49 L244.49,304.50 L244.64,304.51 L244.79,304.51 L244.94,304.52 L245.09,304.53 L245.24,304.54 L245.39,304.54 L245.54,304.55 L245.69,304.55 L245.84,304.56 L245.99,304.56 L246.14,304.57 L246.29,304.57 L246.44,304.58 L246.59,304.58 L246.74,304.59 L246.89,304.59 L247.04,304.59 L247.19,304.59 L247.34,304.60 L247.49,304.60 L247.64,304.60 L247.79,304.60 L247.94,304.60 L248.00,304.60 L387.80,304.60 L387.95,305.22 L388.10,305.82 L388.25,306.41 L388.30,306.60 L388.40,307.00 L388.55,307.59 L388.65,307.90 L388.70,308.03 L388.85,308.35 L389.00,308.62 L389.10,308.80 L389.15,308.89 L389.30,309.17 L389.45,309.44 L389.60,309.71 L389.75,309.97 L389.90,310.22 L390.05,310.45 L390.20,310.66 L390.35,310.85 L390.40,310.90 L390.50,311.00 L390.65,311.16 L390.80,311.30 L390.95,311.45 L391.10,311.58 L391.25,311.71 L391.40,311.83 L391.55,311.94 L391.70,312.05 L391.85,312.14 L392.00,312.23 L392.15,312.30 L392.30,312.36 L392.40,312.40 L392.45,312.42 L392.60,312.46 L392.75,312.51 L392.90,312.55 L393.05,312.60 L393.20,312.64 L393.35,312.68 L393.50,312.71 L393.65,312.75 L393.80,312.78 L393.95,312.82 L394.10,312.85 L394.25,312.88 L394.40,312.90 L394.55,312.93 L394.70,312.95 L394.85,312.98 L395.00,313.00 L395.15,313.02 L395.30,313.04 L395.45,313.05 L395.60,313.07 L395.75,313.08 L395.90,313.09 L396.00,313.10 L396.05,313.10 L396.20,313.11 L396.35,313.12 L396.50,313.13 L396.65,313.14 L396.80,313.15 L396.95,313.16 L397.10,313.17 L397.25,313.18 L397.40,313.19 L397.55,313.20 L397.70,313.20 L397.85,313.21 L398.00,313.22 L398.15,313.23 L398.30,313.23 L398.45,313.24 L398.60,313.25 L398.75,313.25 L398.90,313.26 L399.05,313.26 L399.20,313.27 L399.35,313.27 L399.50,313.28 L399.65,313.28 L399.80,313.29 L399.95,313.29 L400.10,313.29 L400.25,313.29 L400.40,313.30 L400.55,313.30 L400.70,313.30 L400.85,313.30 L401.00,313.30 L401.00,313.30 L541.50,313.30" fill="none" stroke="#4dbeee" stroke-width="1.35" stroke-linejoin="round"/>
<path d="M387.8,304.6 V312.6" fill="none" stroke="#4dbeee" stroke-width="1.3"/>
<path d="M387.78000000000003,298 V307" fill="none" stroke="#0072bd" stroke-width="1.3"/>
<rect x="215.55" y="217.5" width="317.9" height="23" rx="0.6" fill="#fff" stroke="#6a6a6a" stroke-width="0.8"/>
<path d="M218.30,229.1 h30.1" stroke="#0072bd" stroke-width="1.15"/>
<path d="M252.10,228.4 h11.8" stroke="#1a1a1a" stroke-width="0.55"/>
<text transform="translate(253.00,225.3) scale(0.991,1)" class="it" font-size="9.0">I</text>
<text transform="translate(255.98,227.10000000000002) scale(1.243,1)" class="it sb" font-size="6.4">t,1</text>
<text transform="translate(253.00,236.2) scale(0.991,1)" class="it" font-size="9.0">I</text>
<text transform="translate(255.98,238.0) scale(1.243,1)" class="it sb" font-size="6.4">t,1</text>
<path d="M271.24,229.1 h30.1" stroke="#d95319" stroke-width="1.15"/>
<path d="M305.04,228.4 h11.8" stroke="#1a1a1a" stroke-width="0.55"/>
<text transform="translate(305.94,225.3) scale(0.991,1)" class="it" font-size="9.0">I</text>
<text transform="translate(308.92,227.10000000000002) scale(1.243,1)" class="it sb" font-size="6.4">t,2</text>
<text transform="translate(305.94,236.2) scale(0.991,1)" class="it" font-size="9.0">I</text>
<text transform="translate(308.92,238.0) scale(1.243,1)" class="it sb" font-size="6.4">t,2</text>
<path d="M324.18,229.1 h30.1" stroke="#edb120" stroke-width="1.15"/>
<path d="M357.98,228.4 h11.8" stroke="#1a1a1a" stroke-width="0.55"/>
<text transform="translate(358.88,225.3) scale(0.991,1)" class="it" font-size="9.0">I</text>
<text transform="translate(361.86,227.10000000000002) scale(1.243,1)" class="it sb" font-size="6.4">t,3</text>
<text transform="translate(358.88,236.2) scale(0.991,1)" class="it" font-size="9.0">I</text>
<text transform="translate(361.86,238.0) scale(1.243,1)" class="it sb" font-size="6.4">t,3</text>
<path d="M377.12,229.1 h30.1" stroke="#7e2f8e" stroke-width="1.15"/>
<path d="M410.92,228.4 h11.8" stroke="#1a1a1a" stroke-width="0.55"/>
<text transform="translate(411.82,225.3) scale(0.991,1)" class="it" font-size="9.0">I</text>
<text transform="translate(414.80,227.10000000000002) scale(1.243,1)" class="it sb" font-size="6.4">t,4</text>
<text transform="translate(411.82,236.2) scale(0.991,1)" class="it" font-size="9.0">I</text>
<text transform="translate(414.80,238.0) scale(1.243,1)" class="it sb" font-size="6.4">t,4</text>
<path d="M430.06,229.1 h30.1" stroke="#77ac30" stroke-width="1.15"/>
<path d="M463.86,228.4 h11.8" stroke="#1a1a1a" stroke-width="0.55"/>
<text transform="translate(464.76,225.3) scale(0.991,1)" class="it" font-size="9.0">I</text>
<text transform="translate(467.74,227.10000000000002) scale(1.243,1)" class="it sb" font-size="6.4">t,5</text>
<text transform="translate(464.76,236.2) scale(0.991,1)" class="it" font-size="9.0">I</text>
<text transform="translate(467.74,238.0) scale(1.243,1)" class="it sb" font-size="6.4">t,5</text>
<path d="M483.00,229.1 h30.1" stroke="#4dbeee" stroke-width="1.15"/>
<path d="M516.80,228.4 h11.8" stroke="#1a1a1a" stroke-width="0.55"/>
<text transform="translate(517.70,225.3) scale(0.991,1)" class="it" font-size="9.0">I</text>
<text transform="translate(520.68,227.10000000000002) scale(1.243,1)" class="it sb" font-size="6.4">t,6</text>
<text transform="translate(517.70,236.2) scale(0.991,1)" class="it" font-size="9.0">I</text>
<text transform="translate(520.68,238.0) scale(1.243,1)" class="it sb" font-size="6.4">t,6</text>
</svg>
</body></html>
